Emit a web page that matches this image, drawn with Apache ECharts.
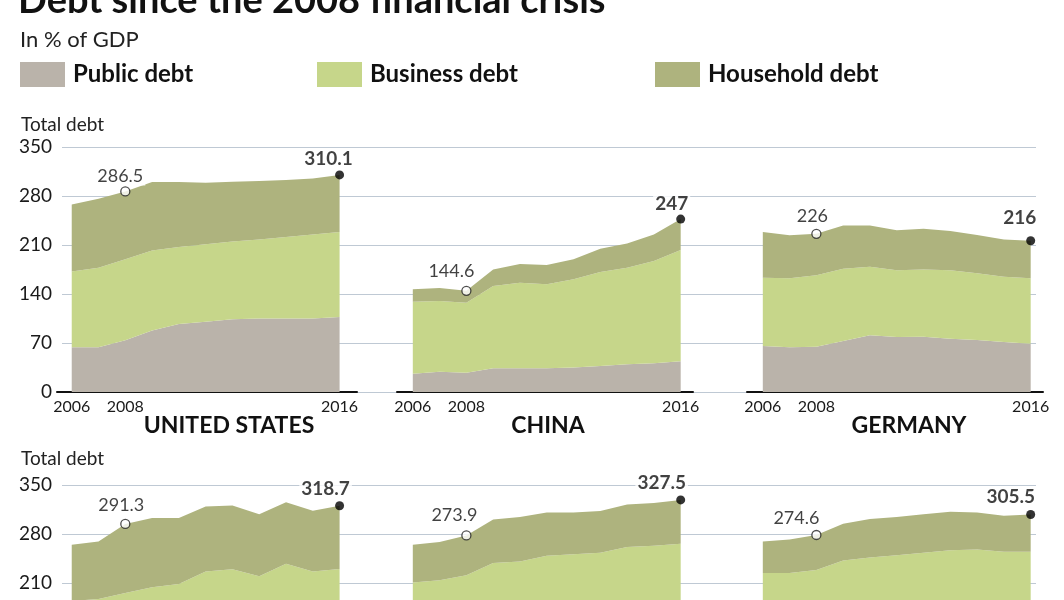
<!DOCTYPE html>
<html><head><meta charset="utf-8">
<script src="https://cdn.jsdelivr.net/npm/echarts@6/dist/echarts.min.js"></script>
<style>html,body{margin:0;padding:0;background:#fff;overflow:hidden;height:600px}#c{width:1064px;height:740px}</style>
</head><body><div id="c"></div><script>
// ---------- data ----------
const years = [2006, 2007, 2008, 2009, 2010, 2011, 2012, 2013, 2014, 2015, 2016];
const yearLabels = [2006, 2008, 2016];
const yTicks = [0, 70, 140, 210, 280, 350];
const seriesNames = ['Public debt', 'Business debt', 'Household debt'];
const countryNames = ['UNITED STATES', 'CHINA', 'GERMANY'];
const markYears = [2008, 2016];

const usPublic    = [64, 64, 74, 88, 97, 100.5, 104, 105, 105, 105, 107];
const usBusiness  = [108, 113.6, 115.5, 114, 110, 110.5, 111, 113, 116.4, 120, 121.6];
const usHousehold = [96, 98.4, 97, 98, 93, 88, 85.5, 83.4, 81.6, 80, 81.5];
const usMarks     = [286.5, 310.1];

const cnPublic    = [26, 29, 27.6, 34, 34, 34, 35, 37, 39.5, 41, 44];
const cnBusiness  = [103, 101, 100, 117.4, 122, 120, 126, 134.4, 138, 146, 159];
const cnHousehold = [17.7, 18.6, 17, 23.6, 27, 27.6, 28.5, 33.4, 34.8, 38, 44];
const cnMarks     = [144.6, 247];

const dePublic    = [65.7, 63.8, 64.8, 72.9, 81, 78.6, 79, 76.2, 74.3, 71.4, 69];
const deBusiness  = [97.6, 98.6, 101.9, 103.1, 98, 95.2, 96, 97.6, 95.2, 93.4, 93.4];
const deHousehold = [65.3, 61.4, 59.3, 62, 59, 57.2, 58.3, 56.2, 54.8, 53.2, 53.6];
const deMarks     = [226, 216];

const p4Public    = [64, 64, 68, 79, 82, 85, 90, 92, 95, 96, 97];
const p4Business  = [111, 114, 119.2, 116.8, 118.5, 134.5, 132.8, 120.4, 136.3, 123.5, 126.3];
const p4Household = [84.8, 86.6, 104.1, 104.4, 99.7, 98.2, 96.2, 93.5, 92.6, 91.5, 95.4];
const p4Marks     = [291.3, 318.7];

const p5Public    = [42, 43, 50, 64, 76, 81, 85, 86, 88, 88, 88];
const p5Business  = [160.9, 163.2, 163.8, 168.3, 158.6, 162.2, 160.6, 161.9, 168.5, 170.4, 173.2];
const p5Household = [56.9, 57.9, 60.1, 65.5, 67, 65.5, 63.1, 62.7, 64.1, 64.6, 66.3];
const p5Marks     = [273.9, 327.5];

const p6Public    = [64, 64, 68, 79, 81, 85, 90, 92, 95, 96, 97];
const p6Business  = [153.2, 153.2, 153.9, 157.1, 159.8, 159.2, 157.9, 159.7, 157.7, 153.3, 152.3];
const p6Household = [47.4, 50.7, 52.7, 55.5, 57.9, 57.4, 58, 58, 56, 54.2, 56.2];
const p6Marks     = [274.6, 305.5];

// ---------- layout / style ----------
const FONT = 'Lato';
const colors = ['#bab3aa', '#c6d68a', '#aeb37e'];
const rowTops = [147, 485];
const plotH = 245;
const cols = [
  { left: 57, width: 300, min: 2005.45, max: 2016.65 },
  { left: 397, width: 296, min: 2005.41, max: 2016.46 },
  { left: 747, width: 296, min: 2005.41, max: 2016.46 }
];
const panels = [
  { row: 0, col: 0, layers: [usPublic, usBusiness, usHousehold], marks: usMarks, offs: [[-5, -15], [-11, -16]] },
  { row: 0, col: 1, layers: [cnPublic, cnBusiness, cnHousehold], marks: cnMarks, offs: [[-15, -20], [-9, -15]] },
  { row: 0, col: 2, layers: [dePublic, deBusiness, deHousehold], marks: deMarks, offs: [[-4, -18], [-11, -23]] },
  { row: 1, col: 0, layers: [p4Public, p4Business, p4Household], marks: p4Marks, offs: [[-4, -19], [-14, -17]] },
  { row: 1, col: 1, layers: [p5Public, p5Business, p5Household], marks: p5Marks, offs: [[-12, -20], [-19, -17]] },
  { row: 1, col: 2, layers: [p6Public, p6Business, p6Household], marks: p6Marks, offs: [[-20, -17], [-20, -18]] }
];
const countryX = [229, 548, 909];

const grid = [], xAxis = [], yAxis = [], series = [];
rowTops.forEach((top, r) => {
  grid.push({ left: 62, width: 974, top: top, height: plotH });
  xAxis.push({ gridIndex: r, type: 'value', min: 0, max: 1, show: false });
  yAxis.push({
    gridIndex: r, type: 'value', min: yTicks[0], max: yTicks[yTicks.length - 1], interval: yTicks[1] - yTicks[0],
    axisLine: { show: false }, axisTick: { show: false },
    axisLabel: { fontFamily: FONT, fontSize: 19, color: '#1a1a1a', margin: 10 },
    splitLine: { lineStyle: { color: '#bfc9d4', width: 1 } }
  });
});
panels.forEach((p, i) => {
  const gi = i + 2;
  const c = cols[p.col];
  grid.push({ left: c.left, width: c.width, top: rowTops[p.row], height: plotH });
  xAxis.push({
    gridIndex: gi, type: 'value', min: c.min, max: c.max,
    axisLine: { show: true, onZero: false, lineStyle: { color: '#111', width: 2 } },
    axisTick: { show: false },
    splitLine: { show: false },
    axisLabel: { customValues: yearLabels, formatter: v => String(v), fontFamily: FONT, fontSize: 16, color: '#1a1a1a', margin: 7 }
  });
  yAxis.push({ gridIndex: gi, type: 'value', min: yTicks[0], max: yTicks[yTicks.length - 1], show: false });
  p.layers.forEach((vals, k) => {
    series.push({
      type: 'line', name: seriesNames[k], xAxisIndex: gi, yAxisIndex: gi, stack: 'p' + i,
      dimensions: ['value', 'year'], encode: { x: 'year', y: 'value' },
      symbol: 'none', lineStyle: { width: 0 }, itemStyle: { color: colors[k] },
      areaStyle: { color: colors[k], opacity: 1 }, silent: true, z: 2,
      data: years.map((y, j) => [vals[j], y])
    });
  });
  series.push({
    type: 'scatter', name: 'mark' + i, xAxisIndex: gi, yAxisIndex: gi, symbolSize: 9, z: 5, silent: true,
    data: markYears.map((y, j) => ({
      value: [y, p.marks[j]],
      itemStyle: j === 0 ? { color: '#fff', borderColor: '#222', borderWidth: 1.3 } : { color: '#000' },
      label: {
        show: true, position: 'inside', offset: p.offs[j],
        formatter: String(p.marks[j]),
        fontFamily: FONT, fontSize: j === 0 ? 18 : 19, fontWeight: j === 0 ? 'normal' : 'bold',
        color: '#111', backgroundColor: '#fff', padding: [0, 2]
      }
    }))
  });
});

const legend = [20, 317, 655].map((x, k) => ({
  left: x, top: 62, padding: 0, orient: 'horizontal',
  itemWidth: 45, itemHeight: 25, icon: 'rect', selectedMode: false,
  data: [seriesNames[k]],
  textStyle: { fontFamily: FONT, fontSize: 24, fontWeight: 'bold', color: '#111', padding: [0, 0, 0, 3] }
}));

const graphic = [
  { type: 'text', left: 18, top: -18, style: { text: 'Debt since the 2008 financial crisis', font: 'bold 38px ' + FONT, fill: '#111' } },
  { type: 'text', x: 20, y: 40, style: { text: 'In % of GDP', font: '22px ' + FONT, fill: '#222', verticalAlign: 'middle' } },
  { type: 'text', x: 21, y: 125, style: { text: 'Total debt', font: '19px ' + FONT, fill: '#222', verticalAlign: 'middle' } },
  { type: 'text', x: 21, y: 459, style: { text: 'Total debt', font: '19px ' + FONT, fill: '#222', verticalAlign: 'middle' } }
];
countryNames.forEach((n, k) => {
  graphic.push({ type: 'text', x: countryX[k], y: 426, style: { text: n, font: 'bold 23px ' + FONT, fill: '#111', align: 'center', verticalAlign: 'middle' } });
});

const chart = echarts.init(document.getElementById('c'), null, { renderer: 'canvas' });
chart.setOption({
  animation: false, backgroundColor: '#fff',
  grid, xAxis, yAxis, series, legend, graphic
});
</script></body></html>
